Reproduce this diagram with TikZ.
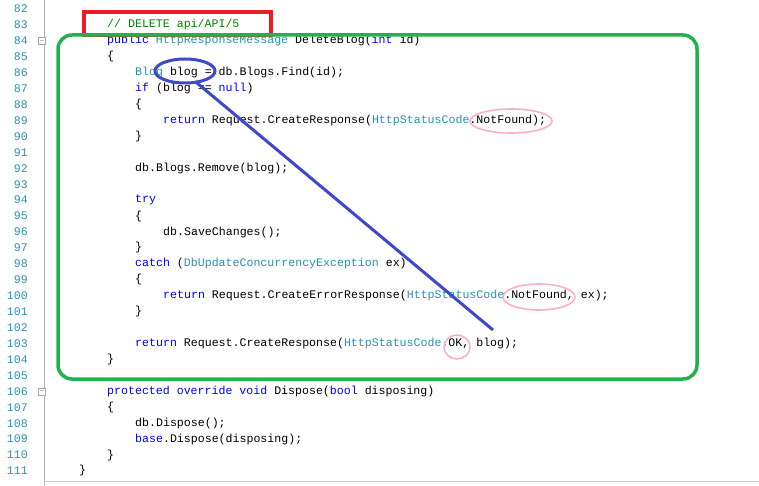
\documentclass[tikz,border=0pt]{standalone}
\usepackage{fontspec}
\setmonofont{Liberation Mono}
\usetikzlibrary{shapes.geometric}
\definecolor{kw}{RGB}{0,0,255}
\definecolor{ty}{RGB}{43,145,175}
\definecolor{cm}{RGB}{0,128,0}
\definecolor{mkred}{RGB}{237,28,36}
\definecolor{mkgreen}{RGB}{34,177,76}
\definecolor{mkblue}{RGB}{63,72,204}
\definecolor{mkpink}{RGB}{255,174,201}
\tikzset{
  code/.style={anchor=west, inner sep=0pt, font=\ttfamily\fontsize{11.6}{12}\selectfont},
  lnum/.style={anchor=east, inner sep=0pt, text=ty, font=\ttfamily\fontsize{11.6}{12}\selectfont},
  fold/.style={draw=gray!70, fill=white, minimum size=7pt, inner sep=0pt},
  pinkring/.style={draw=mkpink, line width=1.6pt, ellipse, inner sep=0pt}
}
\newcommand{\K}[1]{\textcolor{kw}{#1}}
\newcommand{\T}[1]{\textcolor{ty}{#1}}
\newcommand{\ly}[1]{9+(#1-82)*15.93}
\begin{document}
\begin{tikzpicture}[x=1pt, y=-1pt]
    \useasboundingbox[fill=white] (0,0) rectangle (759,486);
    % line numbers and gutter
    \foreach \n in {82,...,111}
        \node[lnum] (n\n) at (28, {\ly{\n}}) {\n};
    \draw[gray!60] (44,0) -- (44,486);
    \draw[gray!40] (44,481) -- (759,481);
    \node[fold] (f84) at (42, {\ly{84}}) {\tiny$-$};
    \node[fold] (f106) at (42, {\ly{106}}) {\tiny$-$};
    % code
    \node[code] (l83) at (107, {\ly{83}}) {\textcolor{cm}{// DELETE api/API/5}};
    \node[code] (l84) at (107, {\ly{84}}) {\K{public} \T{HttpResponseMessage} DeleteBlog(\K{int} id)};
    \node[code] (l85) at (107, {\ly{85}}) {\{};
    \node[code] (l86) at (135, {\ly{86}}) {\T{Blog} blog = db.Blogs.Find(id);};
    \node[code] (l87) at (135, {\ly{87}}) {\K{if} (blog == \K{null})};
    \node[code] (l88) at (135, {\ly{88}}) {\{};
    \node[code] (l89) at (163, {\ly{89}}) {\K{return} Request.CreateResponse(\T{HttpStatusCode}.NotFound);};
    \node[code] (l90) at (135, {\ly{90}}) {\}};
    \node[code] (l92) at (135, {\ly{92}}) {db.Blogs.Remove(blog);};
    \node[code] (l94) at (135, {\ly{94}}) {\K{try}};
    \node[code] (l95) at (135, {\ly{95}}) {\{};
    \node[code] (l96) at (163, {\ly{96}}) {db.SaveChanges();};
    \node[code] (l97) at (135, {\ly{97}}) {\}};
    \node[code] (l98) at (135, {\ly{98}}) {\K{catch} (\T{DbUpdateConcurrencyException} ex)};
    \node[code] (l99) at (135, {\ly{99}}) {\{};
    \node[code] (l100) at (163, {\ly{100}}) {\K{return} Request.CreateErrorResponse(\T{HttpStatusCode}.NotFound, ex);};
    \node[code] (l101) at (135, {\ly{101}}) {\}};
    \node[code] (l103) at (135, {\ly{103}}) {\K{return} Request.CreateResponse(\T{HttpStatusCode}.OK, blog);};
    \node[code] (l104) at (107, {\ly{104}}) {\}};
    \node[code] (l106) at (107, {\ly{106}}) {\K{protected} \K{override} \K{void} Dispose(\K{bool} disposing)};
    \node[code] (l107) at (107, {\ly{107}}) {\{};
    \node[code] (l108) at (135, {\ly{108}}) {db.Dispose();};
    \node[code] (l109) at (135, {\ly{109}}) {\K{base}.Dispose(disposing);};
    \node[code] (l110) at (107, {\ly{110}}) {\}};
    \node[code] (l111) at (79, {\ly{111}}) {\}};
    % marks
    \draw[mkred, line width=3.5pt] (84,12) rectangle (271,35);
    \draw[mkgreen, line width=3.5pt, rounded corners=14pt] (58,35) rectangle (697,379);
    \node[draw=mkblue, line width=3pt, ellipse, minimum width=60pt, minimum height=24pt] (blogmark) at (185,71) {};
    \coordinate (lineend) at (493,330);
    \draw[mkblue, line width=3pt] (blogmark.south east) ++(-12,1) -- (lineend);
    \node[pinkring, minimum width=82pt, minimum height=24pt] (nf89) at (511,121) {};
    \node[pinkring, minimum width=72pt, minimum height=26pt] (nf100) at (539,297) {};
    \node[pinkring, minimum width=26pt, minimum height=24pt] (ok103) at (457,347) {};
\end{tikzpicture}
\end{document}
